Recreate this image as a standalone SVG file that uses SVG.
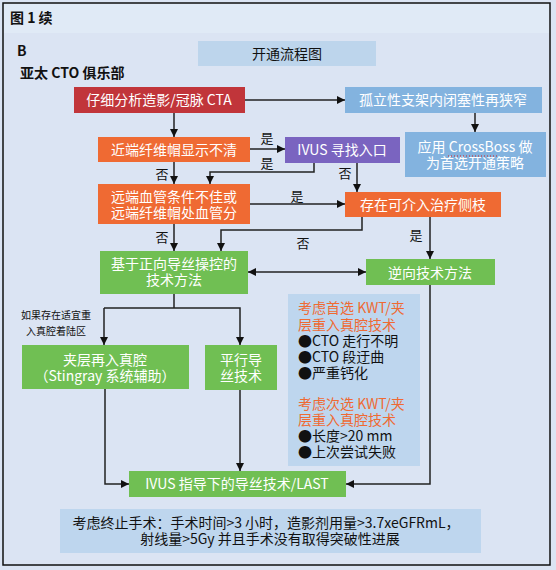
<svg xmlns="http://www.w3.org/2000/svg" width="556" height="570" viewBox="0 0 556 570">
<defs>
<marker id="ah" viewBox="0 0 10 10" refX="10" refY="5" markerWidth="8" markerHeight="8" markerUnits="userSpaceOnUse" orient="auto-start-reverse">
<path d="M0,0 L10,5 L0,10 z" fill="#111"/>
</marker>
<style>
.t{font-family:"Noto Sans CJK SC","Liberation Sans",sans-serif;font-size:14px;}
.w{fill:#fff;text-anchor:middle;}
.d{fill:#111;}
.o{fill:#ef6a33;}
.lb{font-family:"Noto Sans CJK SC","Liberation Sans",sans-serif;font-size:13px;fill:#111;text-anchor:middle;}
.b{font-weight:bold;}
.ln{fill:none;stroke:#222;stroke-width:1.5;}
.ar{marker-end:url(#ah);}
</style>
</defs>
<rect x="0" y="0" width="556" height="570" fill="#dbe4f3"/>
<rect x="3" y="3" width="547" height="30" fill="#e0eaf6"/>
<rect x="3" y="3" width="547" height="562" fill="none" stroke="#111" stroke-width="1.5"/>
<text class="t d b" x="10" y="23">图 1  续</text>
<text class="t d b" x="17" y="56">B</text>
<text class="t d b" x="20" y="78">亚太 CTO 俱乐部</text>

<g id="title"><rect x="198" y="41" width="178" height="25" fill="#bdd5ec"/><text class="t d" x="287" y="59" text-anchor="middle">开通流程图</text></g>

<g id="connectors">
<path class="ln ar" d="M245,100 H345"/>
<path class="ln ar" d="M475,113 V132"/>
<path class="ln ar" d="M174,113 V137"/>
<path class="ln ar" d="M250,149 H285"/>
<path class="ln ar" d="M314,163 V172 H210 V184"/>
<path class="ln ar" d="M357,163 V192"/>
<path class="ln ar" d="M174,162 V184"/>
<path class="ln ar" d="M250,204 H345"/>
<path class="ln ar" d="M362,217 V230 H221 V251"/>
<path class="ln ar" d="M174,224 V251"/>
<path class="ln ar" d="M430,217 V259"/>
<path class="ln ar" d="M248,272 H366" style="marker-start:url(#ah)"/>
<path class="ln" d="M174,294 V308"/>
<path class="ln ar" d="M104,308 H240 V345"/>
<path class="ln ar" d="M104,308 V345"/>
<path class="ln ar" d="M105,389 V484 H129"/>
<path class="ln ar" d="M240,390 V471"/>
<path class="ln ar" d="M430,285 V484 H346"/>
<text class="lb" x="267" y="143">是</text>
<text class="lb" x="267" y="168">是</text>
<text class="lb" x="345" y="178">否</text>
<text class="lb" x="162" y="179">否</text>
<text class="lb" x="297" y="201">是</text>
<text class="lb" x="162" y="242">否</text>
<text class="lb" x="303" y="248">否</text>
<text class="lb" x="416" y="240">是</text>
<text x="56" y="319" text-anchor="middle" style="font-family:'Noto Sans CJK SC',sans-serif;font-size:10px;fill:#111">如果存在适宜重</text>
<text x="56" y="335" text-anchor="middle" style="font-family:'Noto Sans CJK SC',sans-serif;font-size:10px;fill:#111">入真腔着陆区</text>
</g>

<g id="n-analyze"><rect x="74" y="87" width="171" height="26" fill="#c1353a"/><text class="t w" x="159" y="105">仔细分析造影/冠脉 CTA</text></g>
<g id="n-isr"><rect x="345" y="87" width="197" height="26" fill="#83b3df"/><text class="t w" x="443" y="105">孤立性支架内闭塞性再狭窄</text></g>
<g id="n-crossboss"><rect x="405" y="132" width="141" height="45" fill="#83b3df"/><text class="t w" x="475" y="152">应用 CrossBoss 做</text><text class="t w" x="475" y="168">为首选开通策略</text><path d="M448,156 H498" stroke="#d02020" stroke-width="1" stroke-dasharray="1,2"/></g>
<g id="n-proximal"><rect x="98" y="137" width="152" height="25" fill="#ef6a33"/><text class="t w" x="174" y="155">近端纤维帽显示不清</text></g>
<g id="n-ivus"><rect x="285" y="137" width="115" height="26" fill="#7a64c0"/><text class="t w" x="342" y="155">IVUS 寻找入口</text></g>
<g id="n-distal"><rect x="98" y="184" width="152" height="40" fill="#ef6a33"/><text class="t w" x="174" y="202">远端血管条件不佳或</text><text class="t w" x="174" y="218">远端纤维帽处血管分</text></g>
<g id="n-collateral"><rect x="345" y="192" width="156" height="25" fill="#ef6a33"/><text class="t w" x="423" y="210">存在可介入治疗侧枝</text></g>
<g id="n-antegrade"><rect x="100" y="251" width="148" height="43" fill="#70bf53"/><text class="t w" x="174" y="269">基于正向导丝操控的</text><text class="t w" x="174" y="285">技术方法</text></g>
<g id="n-retrograde"><rect x="366" y="259" width="129" height="26" fill="#70bf53"/><text class="t w" x="430" y="278">逆向技术方法</text></g>
<g id="n-dissection"><rect x="22" y="345" width="167" height="44" fill="#70bf53"/><text class="t w" x="105" y="365">夹层再入真腔</text><text class="t w" x="105" y="381">（Stingray 系统辅助）</text></g>
<g id="n-parallel"><rect x="205" y="345" width="72" height="45" fill="#70bf53"/><text class="t w" x="241" y="365">平行导</text><text class="t w" x="241" y="381">丝技术</text></g>
<g id="n-info"><rect x="288" y="294" width="132" height="172" fill="#bed6ee"/>
<text class="t o" x="298" y="313">考虑首选 KWT/夹</text>
<text class="t o" x="298" y="330">层重入真腔技术</text>
<text class="t d" x="298" y="346">●CTO 走行不明</text>
<text class="t d" x="298" y="362">●CTO 段迂曲</text>
<text class="t d" x="298" y="378">●严重钙化</text>
<text class="t o" x="298" y="409">考虑次选 KWT/夹</text>
<text class="t o" x="298" y="425">层重入真腔技术</text>
<text class="t d" x="298" y="441">●长度&gt;20 mm</text>
<text class="t d" x="298" y="457">●上次尝试失败</text>
</g>
<g id="n-ivusguided"><rect x="129" y="471" width="217" height="26" fill="#70bf53"/><text class="t w" x="237" y="489">IVUS 指导下的导丝技术/LAST</text></g>
<g id="n-stop"><rect x="60" y="509" width="421" height="44" fill="#bed6ee"/><text class="t d" x="266" y="528" text-anchor="middle">考虑终止手术：手术时间&gt;3 小时，造影剂用量&gt;3.7xeGFRmL，</text><text class="t d" x="270" y="544" text-anchor="middle">射线量&gt;5Gy 并且手术没有取得突破性进展</text></g>
</svg>
